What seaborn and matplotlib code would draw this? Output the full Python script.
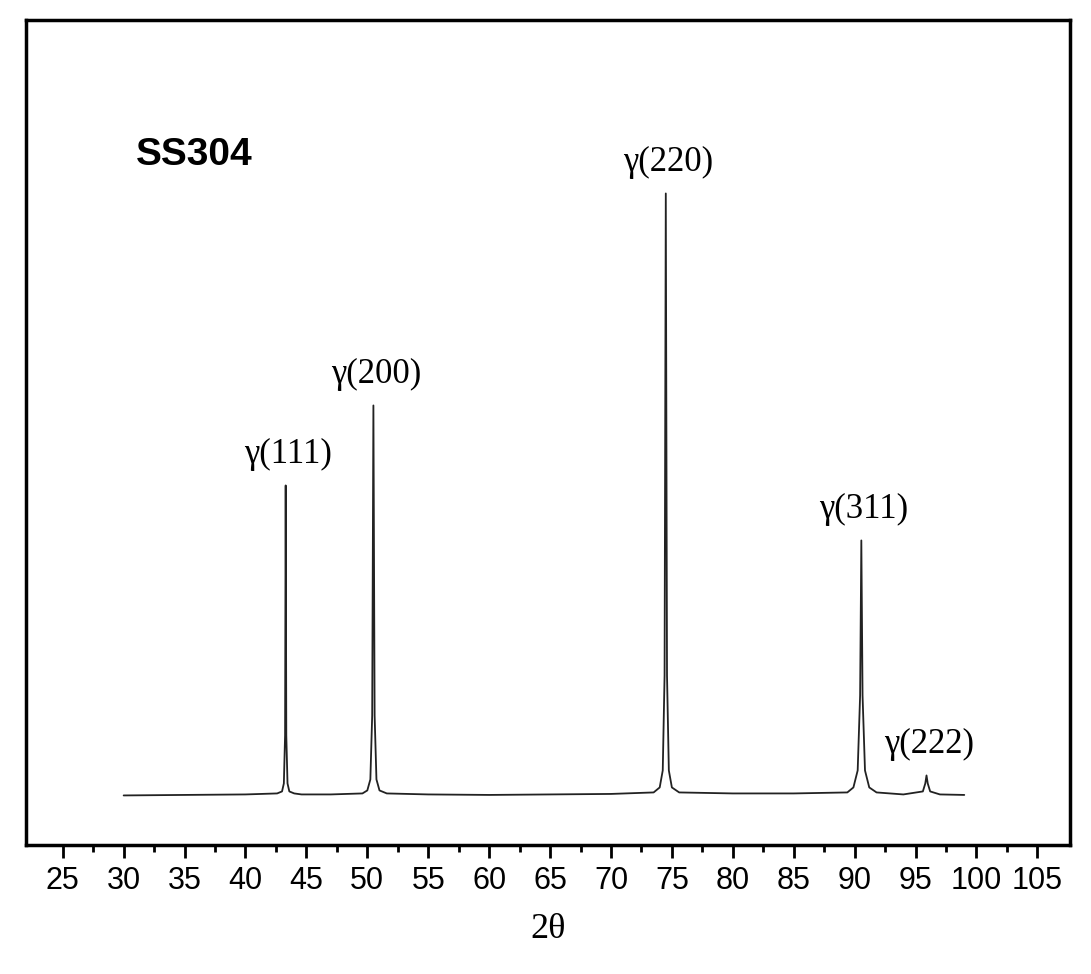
import matplotlib
matplotlib.use("Agg")
import matplotlib.pyplot as plt
import seaborn as sns
import pandas as pd

sns.set_style("white")
plt.rcParams['font.family'] = ['Liberation Sans', 'DejaVu Sans']
plt.rcParams['text.color'] = 'black'
plt.rcParams['xtick.color'] = 'black'
plt.rcParams['axes.labelcolor'] = 'black'

# Hand-read diffraction profile (2theta, intensity in arbitrary units, baseline 0)
two_theta = [30, 35, 40, 42.6, 43.0, 43.15, 43.25, 43.3, 43.35, 43.45, 43.6, 44.0, 44.6, 47, 49.6, 50.0, 50.25, 50.4, 50.5, 50.6, 50.75, 51.0, 51.6, 55, 60, 65, 70, 73.5, 74.0, 74.25, 74.4, 74.5, 74.6, 74.75, 75.0, 75.6, 80, 85, 89.4, 89.9, 90.25, 90.45, 90.55, 90.65, 90.85, 91.2, 91.8, 94, 95.6, 95.8, 95.9, 96.0, 96.2, 97, 99]
intensity = [0, 0.5, 1, 2, 4, 12, 60, 310, 60, 12, 4, 2, 1, 1, 2, 5, 16, 80, 390, 80, 16, 5, 2, 1, 0.5, 1, 1.5, 3, 8, 25, 120, 602, 120, 25, 8, 3, 2, 2, 3, 8, 25, 100, 255, 100, 25, 8, 3, 1, 4, 12, 20, 12, 4, 1, 0.5]

peak_pos = [43.3, 50.5, 74.5, 90.55, 95.9]
peak_h = [310, 390, 602, 255, 20]
peak_labels = ["γ(111)", "γ(200)", "γ(220)", "γ(311)", "γ(222)"]

df = pd.DataFrame({"x": two_theta, "y": intensity})

fig, ax = plt.subplots(figsize=(10.91, 9.74), dpi=100)
fig.subplots_adjust(left=0.024, right=0.981, top=0.979, bottom=0.132)
sns.lineplot(data=df, x="x", y="y", ax=ax, color="#222222", linewidth=1.3)

for p, h, lab in zip(peak_pos, peak_h, peak_labels):
    ax.text(p + 0.2, h + 14, lab, ha="center", va="bottom", fontsize=25,
            family=["Liberation Serif", "DejaVu Serif"])
ax.text(31.0, 640, "SS304", fontsize=28, fontweight="bold", ha="left", va="center")

ax.set_xlim(22.0, 107.7)
ax.set_ylim(-50, 775)
ax.set_xticks(range(25, 106, 5))
ax.set_xticks([x + 2.5 for x in range(25, 105, 5)], minor=True)
ax.set_yticks([])
ax.tick_params(axis="x", which="major", direction="out", length=9, width=2, labelsize=22, bottom=True, pad=6)
ax.tick_params(axis="x", which="minor", direction="out", length=5, width=2, bottom=True)
for s in ax.spines.values():
    s.set_linewidth(2.5)
    s.set_color("black")
ax.set_xlabel("2θ", fontsize=26, family=["Liberation Serif", "DejaVu Serif"], labelpad=12)
ax.set_ylabel("")
fig.savefig("out.png", dpi=100)
